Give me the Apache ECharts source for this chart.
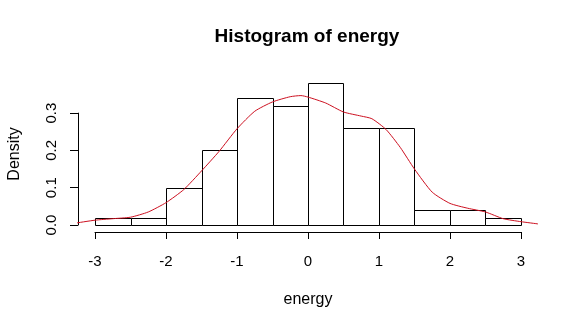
<!DOCTYPE html>
<html>
<head>
<meta charset="utf-8">
<script src="https://cdn.jsdelivr.net/npm/echarts@6/dist/echarts.min.js"></script>
<style>
  html, body { margin: 0; padding: 0; background: #ffffff; }
  #chart { width: 579px; height: 329px; }
</style>
</head>
<body>
<div id="chart"></div>
<script>
// Histogram breaks (bin edges) and densities per bin
const breaks = [-3, -2.5, -2, -1.5, -1, -0.5, 0, 0.5, 1, 1.5, 2, 2.5, 3];
const densities = [0.02, 0.02, 0.10, 0.20, 0.34, 0.32, 0.38, 0.26, 0.26, 0.04, 0.04, 0.02];

// Kernel density estimate overlay
const kdeX = [-3.28, -3.0, -2.75, -2.5, -2.25, -2.0, -1.75, -1.5, -1.25, -1.0, -0.75, -0.5, -0.25, -0.1, 0.0, 0.25, 0.5, 0.75, 0.9, 1.1, 1.3, 1.5, 1.75, 2.0, 2.25, 2.5, 2.75, 3.0, 3.24];
const kdeY = [0.005, 0.013, 0.017, 0.021, 0.035, 0.060, 0.095, 0.145, 0.198, 0.258, 0.305, 0.330, 0.344, 0.347, 0.343, 0.327, 0.303, 0.292, 0.285, 0.256, 0.208, 0.150, 0.088, 0.058, 0.045, 0.035, 0.017, 0.009, 0.003];

// Axis ticks
const xTicks = [-3, -2, -1, 0, 1, 2, 3];
const yTicks = [0.0, 0.1, 0.2, 0.3];

const FONT = '"Liberation Sans", Arial, sans-serif';

const bins = densities.map((d, i) => [breaks[i], breaks[i + 1], d]);
const kde = kdeX.map((x, i) => [x, kdeY[i]]);

const chart = echarts.init(document.getElementById('chart'), null, { renderer: 'canvas' });

const xPad = (xTicks[xTicks.length - 1] - xTicks[0]) * 0.04;
const yMax = Math.max(...densities);
const yPad = yMax * 0.04;

chart.setOption({
  animation: false,
  backgroundColor: '#ffffff',
  grid: [
    // plotting region
    { left: 78, right: 41, top: 77.6, bottom: 98.3 },
    // x axis (spans the tick range only)
    { left: 95, right: 58, top: 77.6, bottom: 97 },
    // y axis (spans the tick range only)
    { left: 78, width: 10, top: 113.1, bottom: 104 }
  ],
  xAxis: [
    { gridIndex: 0, type: 'value', min: xTicks[0] - xPad, max: xTicks[xTicks.length - 1] + xPad, show: false },
    {
      gridIndex: 1, type: 'value', min: xTicks[0], max: xTicks[xTicks.length - 1], interval: 1,
      axisLine: { show: true, lineStyle: { color: '#000', width: 1 } },
      axisTick: { show: true, length: 7, lineStyle: { color: '#000', width: 1 } },
      axisLabel: { show: true, margin: 22, color: '#000', fontSize: 15, fontFamily: FONT, showMinLabel: true, showMaxLabel: true },
      splitLine: { show: false }
    },
    { gridIndex: 2, type: 'value', show: false }
  ],
  yAxis: [
    { gridIndex: 0, type: 'value', min: -yPad, max: yMax + yPad, show: false },
    { gridIndex: 1, type: 'value', show: false },
    {
      gridIndex: 2, type: 'value', min: yTicks[0], max: yTicks[yTicks.length - 1], interval: 0.1,
      axisLine: { show: true, lineStyle: { color: '#000', width: 1 } },
      axisTick: { show: true, length: 8, lineStyle: { color: '#000', width: 1 } },
      axisLabel: {
        show: true, rotate: 90, margin: 19, color: '#000', fontSize: 15, fontFamily: FONT,
        formatter: v => v.toFixed(1)
      },
      splitLine: { show: false }
    }
  ],
  graphic: [
    { type: 'text', x: 307, y: 37, style: { text: 'Histogram of energy', fontSize: 19, fontWeight: 'bold', fontFamily: FONT, fill: '#000', align: 'center', verticalAlign: 'middle' } },
    { type: 'text', x: 308, y: 300, style: { text: 'energy', fontSize: 16, fontFamily: FONT, fill: '#000', align: 'center', verticalAlign: 'middle' } },
    { type: 'text', x: 15, y: 154, rotation: Math.PI / 2, style: { text: 'Density', fontSize: 16, fontFamily: FONT, fill: '#000', align: 'center', verticalAlign: 'middle' } }
  ],
  series: [
    {
      type: 'custom',
      xAxisIndex: 0, yAxisIndex: 0,
      data: bins,
      renderItem: function (params, api) {
        const p0 = api.coord([api.value(0), api.value(2)]);
        const p1 = api.coord([api.value(1), 0]);
        return {
          type: 'rect',
          shape: { x: Math.round(p0[0]) + 0.5, y: Math.round(p0[1]) + 0.5, width: Math.round(p1[0]) - Math.round(p0[0]), height: Math.round(p1[1]) - Math.round(p0[1]) },
          style: { fill: '#ffffff', stroke: '#000000', lineWidth: 1 }
        };
      },
      z: 2
    },
    {
      type: 'line',
      xAxisIndex: 0, yAxisIndex: 0,
      data: kde,
      smooth: 0.2,
      symbol: 'none',
      lineStyle: { color: '#cc1020', width: 1 },
      z: 3
    }
  ]
});
</script>
</body>
</html>
